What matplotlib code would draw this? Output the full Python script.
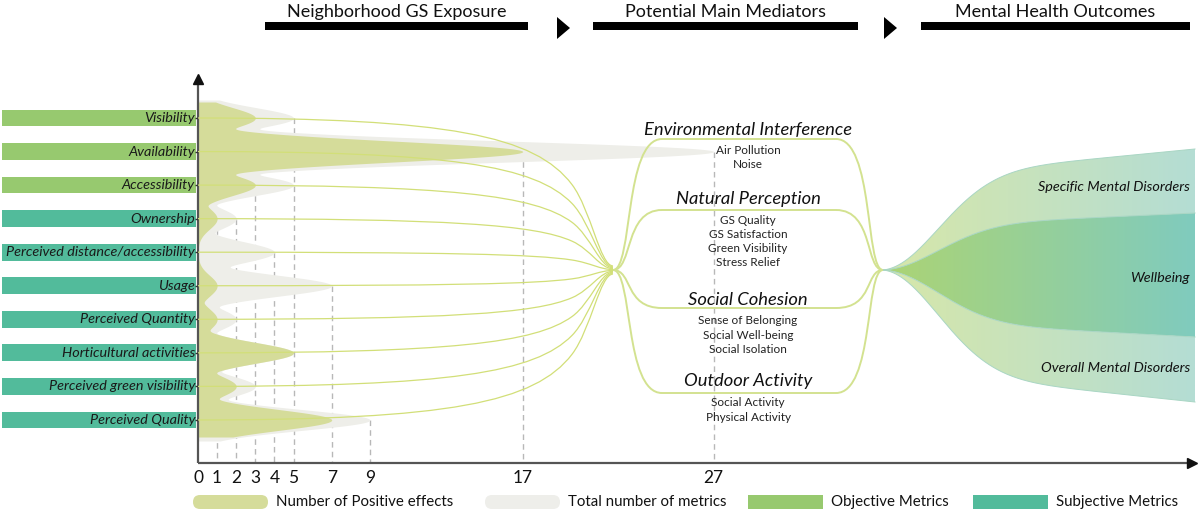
import numpy as np
import matplotlib.pyplot as plt
from matplotlib.path import Path
from matplotlib.patches import PathPatch, Rectangle, Polygon, FancyBboxPatch

plt.rcParams['font.family'] = ['Lato', 'DejaVu Sans']

# ---- data ----
metrics = ["Visibility", "Availability", "Accessibility", "Ownership",
           "Perceived distance/accessibility", "Usage", "Perceived Quantity",
           "Horticultural activities", "Perceived green visibility", "Perceived Quality"]
metric_type = ["Objective"] * 3 + ["Subjective"] * 7
positive_effects = [3, 17, 3, 1, 0, 1, 1, 5, 2, 7]
total_metrics = [5, 27, 5, 2, 4, 7, 2, 5, 3, 9]
tick_values = [0, 1, 2, 3, 4, 5, 7, 9, 17, 27]

stages = ["Neighborhood GS Exposure", "Potential Main Mediators", "Mental Health Outcomes"]
mediators = ["Environmental Interference", "Natural Perception", "Social Cohesion", "Outdoor Activity"]
mediator_items = [["Air Pollution", "Noise"],
                  ["GS Quality", "GS Satisfaction", "Green Visibility", "Stress Relief"],
                  ["Sense of Belonging", "Social Well-being", "Social Isolation"],
                  ["Social Activity", "Physical Activity"]]
outcomes = ["Specific Mental Disorders", "Wellbeing", "Overall Mental Disorders"]
legend_labels = ["Number of Positive effects", "Total number of metrics",
                 "Objective Metrics", "Subjective Metrics"]

# ---- colours ----
C_POS = '#d5dc9a'
C_TOT = '#eeeee9'
C_OBJ = '#97c96f'
C_SUB = '#52bb9b'
C_LINE = '#d2df78'
C_MED = '#d3e290'

W, H = 1200, 515
fig = plt.figure(figsize=(12, 5.15), dpi=100)

# data axes: x in number of metrics, y in row index
X0, XS = 198, 19.1
Y0, YS = 118, 33.55
ax = fig.add_axes([0, 0, 1, 1])
ax.set_xlim(-X0 / XS, (W - X0) / XS)
ax.set_ylim((H - Y0) / YS, -Y0 / YS)
ax.axis('off')

# layout axes in pixels
lay = fig.add_axes([0, 0, 1, 1], zorder=2)
lay.set_xlim(0, W)
lay.set_ylim(H, 0)
lay.axis('off')
lay.patch.set_alpha(0)

rows = np.arange(len(metrics))
axis_r = (463 - Y0) / YS
top_r = (79 - Y0) / YS
xmax = (1192 - X0) / XS

# smooth profiles of the two counts
def profile(vals, r0, r1, sig=0.31):
    rr = np.linspace(r0, r1, 1500)
    k = np.array(vals, float)[:, None] * np.exp(-0.5 * ((rr[None, :] - rows[:, None]) / sig) ** 2)
    return rr, (k ** 4).sum(0) ** 0.25

rt, wt = profile(total_metrics, (100 - Y0) / YS, (441 - Y0) / YS)
rp, wp = profile(positive_effects, (102 - Y0) / YS, (437 - Y0) / YS)
ax.fill_betweenx(rt, 0, wt, color=C_TOT, lw=0, zorder=2)
ax.fill_betweenx(rp, 0, wp, color=C_POS, lw=0, zorder=3)

# dashed guides from the first row reaching each value
for v in tick_values[1:]:
    hit = [i for i in rows if positive_effects[i] == v or total_metrics[i] == v]
    ax.vlines(v, min(hit), axis_r, colors='#b8b8b8', linestyles=(0, (4, 3)), lw=1, zorder=1)

# axes with arrows
ax.plot([0, 0], [axis_r, top_r], color='#555555', lw=1.6, zorder=5, solid_capstyle='butt')
ax.plot([0, xmax], [axis_r, axis_r], color='#555555', lw=1.6, zorder=5, solid_capstyle='butt')
ax.plot(0, top_r, marker='^', ms=7, color='#111111', zorder=6)
ax.plot(xmax, axis_r, marker='>', ms=7, color='#111111', zorder=6)
ax.hlines(rows, -0.17, 0, color='#333333', lw=1, zorder=5)

for v in tick_values:
    ax.text(v, (478 - Y0) / YS, str(v), ha='center', va='center', fontsize=12.5, color='#111111')

# metric label bars
bl, br = (2 - X0) / XS, (196 - X0) / XS
ax.barh(rows, br - bl, left=bl, height=0.5,
        color=[C_OBJ if t == "Objective" else C_SUB for t in metric_type], zorder=4)
for i, name in enumerate(metrics):
    ax.text(br - 0.05, i, name, ha='right', va='center', fontsize=10.4, style='italic',
            color='#1a1a1a', zorder=6)

# curves from each metric row to the mediator hub
to_px = lambda x, y: lay.transData.inverted().transform(ax.transData.transform((x, y)))
HLX, HRX, HY = 613, 883, 270
for i in rows:
    sx, sy = to_px(0, i)
    hy = HY + (i - 4.5) * 0.9
    dh = hy - sy
    verts = [(sx, sy), (450, sy), (535, sy + 0.12 * dh), (572, sy + 0.45 * dh),
             (591, sy + 0.62 * dh), (600, hy), (HLX, hy)]
    codes = [Path.MOVETO] + [Path.CURVE4] * 6
    lay.add_patch(PathPatch(Path(verts, codes), fc='none', ec=C_LINE, lw=0.9, zorder=3))

# mediator loops
levels = [139, 210, 308, 393]
title_y = [130, 199, 300, 381]
item_y = [150, 220, 321, 403]
for lv in levels:
    verts = [(HLX, HY), (633, HY), (624, lv), (662, lv), (836, lv),
             (874, lv), (865, HY), (HRX, HY)]
    codes = [Path.MOVETO, Path.CURVE4, Path.CURVE4, Path.CURVE4, Path.LINETO,
             Path.CURVE4, Path.CURVE4, Path.CURVE4]
    lay.add_patch(PathPatch(Path(verts, codes), fc='none', ec=C_MED, lw=1.4, zorder=3))
for k, name in enumerate(mediators):
    lay.text(748, title_y[k], name, ha='center', va='center', fontsize=13.2, style='italic',
             color='#111111', zorder=5)
    for j, it in enumerate(mediator_items[k]):
        lay.text(748, item_y[k] + j * 14.3, it, ha='center', va='center', fontsize=8.5,
                 color='#222222', zorder=5)

# outcome bands with gradient fill
ends = [149, 213, 337, 402]
xs = np.linspace(HRX, 1195, 300)
u = (xs - HRX) / (1195 - HRX)
F = 0.75 * (1 - np.exp(-(u / 0.25) ** 2)) + 0.25 * u
edges = [HY + (e - HY) * F for e in ends]
band_cols = [('#d7e7a9', '#b4ddd4'), ('#acd474', '#80cbbe'), ('#d7e7a9', '#b4ddd4')]
for b in range(3):
    c0 = np.array([int(band_cols[b][0][i:i + 2], 16) for i in (1, 3, 5)]) / 255
    c1 = np.array([int(band_cols[b][1][i:i + 2], 16) for i in (1, 3, 5)]) / 255
    t = np.linspace(0, 1, 256)[:, None]
    grad = (c0 * (1 - t) + c1 * t)[None, :, :]
    im = lay.imshow(grad, extent=(HRX, 1195, 410, 140), aspect='auto',
                    interpolation='bilinear', zorder=1)
    poly = np.vstack([np.column_stack([xs, edges[b]]),
                      np.column_stack([xs[::-1], edges[b + 1][::-1]])])
    clip = Polygon(poly, closed=True, fc='none', ec='none', transform=lay.transData)
    lay.add_patch(clip)
    im.set_clip_path(clip)
for e in edges:
    lay.plot(xs, e, color='#a9d6c4', lw=0.7, zorder=2)
lay.set_xlim(0, W)
lay.set_ylim(H, 0)
for k, name in enumerate(outcomes):
    lay.text(1190, [187, 278, 368][k], name, ha='right', va='center', fontsize=10.4,
             style='italic', color='#111111', zorder=5)

# header
hdr_bars = [(265, 528), (593, 858), (921, 1190)]
for k, name in enumerate(stages):
    x0, x1 = hdr_bars[k]
    lay.add_patch(Rectangle((x0, 22), x1 - x0, 8, color='#000000', lw=0))
    lay.text((x0 + x1) / 2, 12, name, ha='center', va='center', fontsize=13, color='#111111')
for tx in (557, 884):
    lay.add_patch(Polygon([(tx, 17), (tx + 13, 28), (tx, 39)], closed=True, color='#000000', lw=0))

# legend
leg_x = [193, 485, 748, 973]
leg_c = [C_POS, '#eeeeea', C_OBJ, C_SUB]
for k, lab in enumerate(legend_labels):
    if k < 2:
        lay.add_patch(FancyBboxPatch((leg_x[k], 495), 75, 14,
                                     boxstyle='round,pad=0,rounding_size=7', fc=leg_c[k], ec='none'))
    else:
        lay.add_patch(Rectangle((leg_x[k], 495), 75, 14, fc=leg_c[k], ec='none'))
    lay.text(leg_x[k] + 83, 502, lab, ha='left', va='center', fontsize=10.8, color='#111111')

fig.savefig('out.png', dpi=100)
